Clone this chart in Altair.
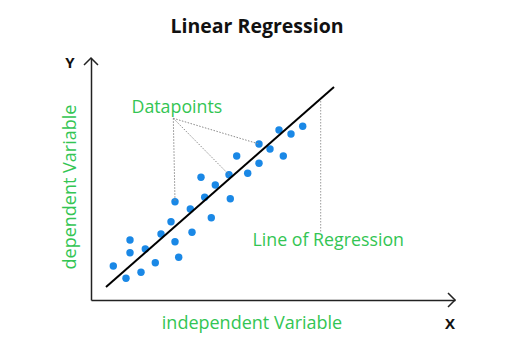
import altair as alt
import pandas as pd

# Scatter data points (arbitrary units)
point_x = [22.3, 35.0, 39.0, 39.0, 50.0, 54.3, 64.3, 70.0, 80.0, 84.0, 84.0, 87.7, 99.3, 101.0, 110.0,
           113.7, 120.3, 124.3, 138.0, 139.3, 145.7, 156.7, 168.0, 168.0, 179.0, 188.0, 192.3, 200.0, 211.7]
point_y = [34.0, 21.7, 60.0, 47.3, 27.7, 51.0, 37.3, 66.0, 78.3, 98.3, 58.3, 42.7, 91.0, 67.7, 122.7,
           102.7, 82.3, 115.0, 125.3, 101.3, 144.0, 126.7, 136.7, 156.0, 151.0, 170.0, 144.0, 166.0, 173.7]

# Regression line end points
line_x = [15.0, 243.0]
line_y = [13.0, 213.0]

# Leader lines from the "Datapoints" label to three points
leader_x = [82.3, 82.3, 82.3]
leader_y = [181.7, 181.7, 181.7]
leader_x2 = [84.0, 138.0, 168.0]
leader_y2 = [98.3, 125.3, 156.0]

# Leader from the regression line to its label
reg_leader_x = [229.7]
reg_leader_y = [199.0]
reg_leader_y2 = [67.0]

X_DOMAIN = [0, 364]
Y_DOMAIN = [0, 242]

GREEN = "#33c553"
BLUE = "#1a88e6"
FONT = "Open Sans"

pts = pd.DataFrame({"x": point_x, "y": point_y})
reg = pd.DataFrame({"x": line_x, "y": line_y})
lead = pd.DataFrame({"x": leader_x, "y": leader_y, "x2": leader_x2, "y2": leader_y2})
rlead = pd.DataFrame({"x": reg_leader_x, "y": reg_leader_y, "y2": reg_leader_y2})

xs = alt.Scale(domain=X_DOMAIN, nice=False, zero=False)
ys = alt.Scale(domain=Y_DOMAIN, nice=False, zero=False)

axis_style = dict(domain=True, domainColor="#222222", domainWidth=1.5, ticks=False,
                  labels=False, grid=False, title=None)

points = alt.Chart(pts).mark_circle(size=55, color=BLUE, opacity=1).encode(
    x=alt.X("x:Q", scale=xs, axis=alt.Axis(**axis_style)),
    y=alt.Y("y:Q", scale=ys, axis=alt.Axis(**axis_style)),
)

line = alt.Chart(reg).mark_line(color="black", strokeWidth=2).encode(
    x=alt.X("x:Q", scale=xs), y=alt.Y("y:Q", scale=ys)
)

leaders = alt.Chart(lead).mark_rule(color="#8a8a8a", strokeWidth=1, strokeDash=[1.5, 1.5]).encode(
    x=alt.X("x:Q", scale=xs), y=alt.Y("y:Q", scale=ys),
    x2="x2:Q", y2="y2:Q",
)

reg_leader = alt.Chart(rlead).mark_rule(color="#9a9a9a", strokeWidth=1, strokeDash=[1.5, 1.5]).encode(
    x=alt.X("x:Q", scale=xs), y=alt.Y("y:Q", scale=ys), y2="y2:Q",
)

one = alt.Data(values=[{"a": 1}])

arrow_right = alt.Chart(one).mark_point(
    shape="M-1,-1L0,0L-1,1", size=196, filled=False, color="#222222", strokeWidth=1.5, opacity=1
).encode(x=alt.value(364), y=alt.value(242))

arrow_up = alt.Chart(one).mark_point(
    shape="M-1,1L0,0L1,1", size=196, filled=False, color="#222222", strokeWidth=1.5, opacity=1
).encode(x=alt.value(0), y=alt.value(0))


def label(text, x, y, size, color, weight="normal", align="center", baseline="alphabetic", angle=0):
    return alt.Chart(one).mark_text(
        text=text, font=FONT, fontSize=size, color=color, fontWeight=weight,
        align=align, baseline=baseline, angle=angle,
    ).encode(x=alt.value(x), y=alt.value(y))


title = label("Linear Regression", 166, -31, 19.5, "#111111", weight="bold", baseline="middle")
ylab = label("Y", -21, 5, 15, "#111111", weight="bold", baseline="middle")
xlab = label("X", 359, 266, 15, "#111111", weight="bold", baseline="middle")
datapoints = label("Datapoints", 40.5, 54.5, 17.8, GREEN, align="left")
lineofreg = label("Line of Regression", 161.5, 188, 17.8, GREEN, align="left")
indep = label("independent Variable", 161, 271, 18, GREEN)
dep = label("dependent Variable", -15, 129, 18, GREEN, angle=270)

chart = alt.layer(
    points, line, leaders, reg_leader, arrow_right, arrow_up,
    title, ylab, xlab, datapoints, lineofreg, indep, dep,
).properties(
    width=364, height=242,
    autosize=alt.AutoSizeParams(type="none"),
    padding={"left": 91, "top": 58, "right": 53, "bottom": 58},
    background="white",
).configure_view(stroke=None)

chart.save("out.html", embed_options={"renderer": "svg", "actions": False})
